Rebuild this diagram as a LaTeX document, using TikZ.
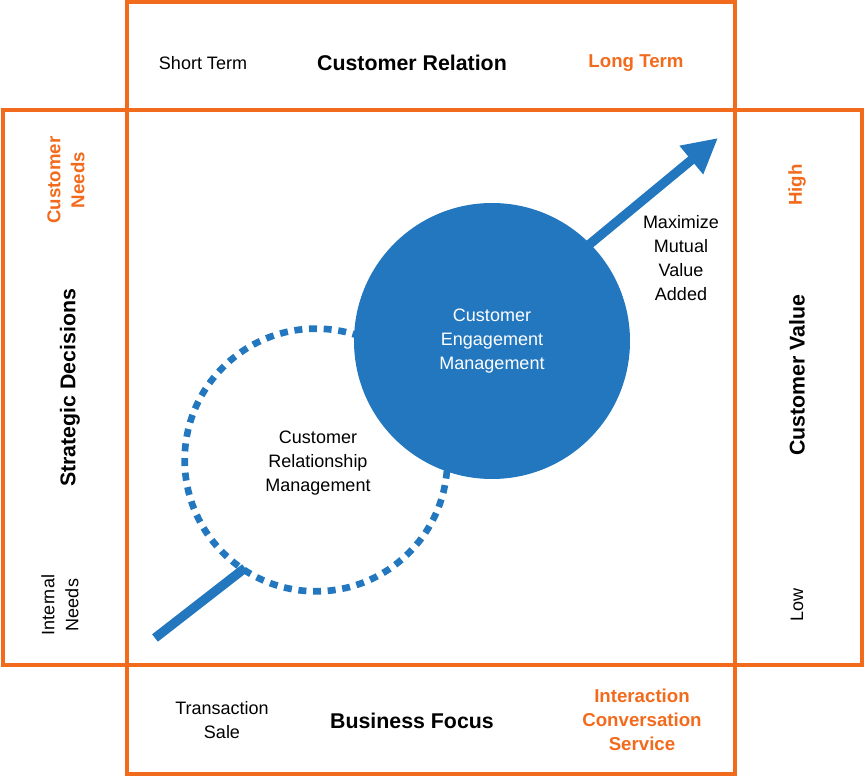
\documentclass[tikz,border=0pt]{standalone}
\usepackage{fontspec}
\setmainfont{Liberation Sans}
\usetikzlibrary{arrows.meta}
\definecolor{org}{HTML}{F26B1D}
\definecolor{blu}{HTML}{2277BF}
\begin{document}
\begin{tikzpicture}[x=0.75pt,y=-0.75pt,
  frame/.style={draw=org,line width=2.3pt},
  lab/.style={font=\fontsize{13.5}{18}\selectfont,align=center},
  bold/.style={font=\fontsize{16}{18}\selectfont\bfseries,align=center},
  obold/.style={font=\fontsize{14}{18}\selectfont\bfseries,text=org,align=center}]
\useasboundingbox (0,0) rectangle (865,777);
\draw[frame] (127,2) rectangle (735,774);
\draw[frame] (3,110) rectangle (862,665);
% arrow
\coordinate (a0) at (155,638); \coordinate (a1) at (245,568);
\coordinate (b0) at (585,248); \coordinate (b1) at (718,138);
\draw[blu,line width=7pt] (a0) -- (a1);
\draw[blu,line width=7pt,-{Triangle[length=26pt,width=26pt]}] (b0) -- (b1);
% circles
\node (crm) [circle,draw=blu,line width=5pt,dash pattern=on 6pt off 5pt,minimum size=197pt] at (316,460) {};
\node (cem) [circle,fill=blu,minimum size=207pt] at (492,341) {};
\node [lab,text=white] at (cem) {Customer\\Engagement\\Management};
\node [lab] at (318,463) {Customer\\Relationship\\Management};
\node [lab] at (681,258) {Maximize\\Mutual\\Value\\Added};
% top
\node [lab] at (203,63) {Short Term};
\node [bold] at (412,63) {Customer Relation};
\node [obold] at (636,63) {Long Term};
% bottom
\node [lab] at (222,720) {Transaction\\Sale};
\node [bold] at (412,721) {Business Focus};
\node [obold] at (642,720) {Interaction\\Conversation\\Service};
% left
\node [obold,rotate=90] at (66,180) {Customer\\Needs};
\node [bold,rotate=90] at (70,388) {Strategic Decisions};
\node [lab,rotate=90] at (60,605) {Internal\\Needs};
% right
\node [obold,rotate=90] at (797,185) {High};
\node [bold,rotate=90] at (797,375) {Customer Value};
\node [lab,rotate=90] at (797,605) {Low};
\end{tikzpicture}
\end{document}
